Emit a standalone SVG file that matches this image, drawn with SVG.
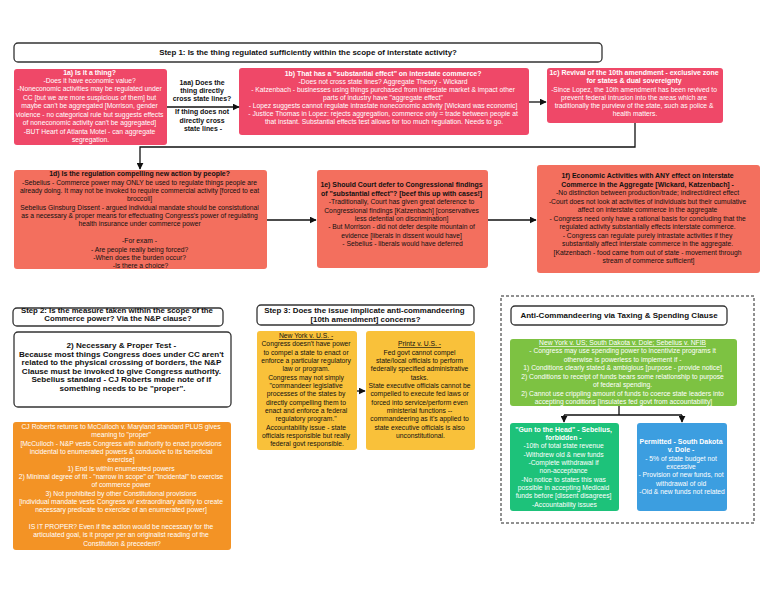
<svg xmlns="http://www.w3.org/2000/svg" width="768" height="593" viewBox="0 0 768 593">
<defs>
<marker id="ah" viewBox="0 0 10 10" refX="9" refY="5" markerWidth="7" markerHeight="7" markerUnits="userSpaceOnUse" orient="auto">
<path d="M0,0 L10,5 L0,10 z" fill="#111"/>
</marker>
<style>
text{font-family:"Liberation Sans",Arial,sans-serif;font-size:6.75px;text-anchor:middle}
.w{fill:#fff}
.k{fill:#111}
.b{font-weight:bold;font-size:6.95px}
.u{text-decoration:underline}
.hdr{fill:#fff;stroke:#333;stroke-width:1.3}
.pink{fill:#EF4868}
.salmon{fill:#F36F5E}
.orange{fill:#F39325}
.yellow{fill:#F9C13A}
.lgreen{fill:#7DC242}
.green{fill:#1DC27A}
.blue{fill:#3C9EE0}
.con{fill:none;stroke:#111;stroke-width:1.3}
</style>
</defs>
<rect width="768" height="593" fill="#fff"/>

<g id="step1">
<rect class="hdr" x="14" y="43" width="588" height="19" rx="4"/>
<text class="k" x="308" y="55.3" style="font-size:7.9px;font-weight:bold">Step 1: Is the thing regulated sufficiently within the scope of interstate activity?</text>
</g>

<g id="n1a">
<rect class="pink" x="14" y="69" width="153" height="76" rx="3"/>
<text class="w" x="90.5" y="74.6">
<tspan x="90.5" class="b">1a) Is it a thing?</tspan>
<tspan x="90.5" dy="8.42">-Does it have economic value?</tspan>
<tspan x="90.5" dy="8.42">-Noneconomic activities may be regulated under</tspan>
<tspan x="90.5" dy="8.42">CC [but we are more suspicious of them] but</tspan>
<tspan x="90.5" dy="8.42">maybe can't be aggregated [Morrison, gender</tspan>
<tspan x="90.5" dy="8.42">violence - no categorical rule but suggests effects</tspan>
<tspan x="90.5" dy="8.42">of noneconomic activity can't be aggregated]</tspan>
<tspan x="90.5" dy="8.42">-BUT Heart of Atlanta Motel - can aggregate</tspan>
<tspan x="90.5" dy="8.42">segregation.</tspan>
</text>
</g>

<g id="n1aa">
<text class="k b" x="203" y="84.6">
<tspan x="203">1aa) Does the</tspan>
<tspan x="203" dy="8.35">thing directly</tspan>
<tspan x="203" dy="8.35">cross state lines?</tspan>
<tspan x="203" dy="13">If thing does not</tspan>
<tspan x="203" dy="8.35">directly cross</tspan>
<tspan x="203" dy="8.35">state lines -</tspan>
</text>
</g>

<g id="n1b">
<rect class="pink" x="239" y="68" width="290" height="67" rx="3"/>
<text class="w" x="384" y="75.6">
<tspan x="384" class="b">1b) That has a "substantial effect" on interstate commerce?</tspan>
<tspan x="384" dy="8.07">-Does not cross state lines? Aggregate Theory - Wickard</tspan>
<tspan x="384" dy="8.07">- Katzenbach - businesses using things purchased from interstate market &amp; impact other</tspan>
<tspan x="384" dy="8.07">parts of industry have "aggregate effect"</tspan>
<tspan x="384" dy="8.07">-  Lopez suggests cannot regulate intrastate noneconomic activity [Wickard was economic]</tspan>
<tspan x="384" dy="8.07">- Justice Thomas in Lopez: rejects aggregation, commerce only = trade between people at</tspan>
<tspan x="384" dy="8.07">that instant. Substantial effects test allows for too much regulation. Needs to go.</tspan>
</text>
</g>

<g id="n1c">
<rect class="pink" x="547" y="68" width="176" height="55" rx="3"/>
<text class="w" x="635" y="75">
<tspan x="635" class="b">1c) Revival of the 10th amendment - exclusive zone</tspan>
<tspan x="635" dy="8.26" class="b">for states &amp; dual sovereignty</tspan>
<tspan x="635" dy="8.26">-Since Lopez, the 10th amendment has been revived to</tspan>
<tspan x="635" dy="8.26">prevent federal intrusion into the areas which are</tspan>
<tspan x="635" dy="8.26">traditionally the purview of the state, such as police &amp;</tspan>
<tspan x="635" dy="8.26">health matters.</tspan>
</text>
</g>

<g id="n1d">
<rect class="salmon" x="14" y="170" width="253" height="99" rx="3"/>
<text class="k" x="140.5" y="176.3">
<tspan x="140.5" class="b">1d) Is the regulation compelling new action by people?</tspan>
<tspan x="140.5" dy="8.36">-Sebelius - Commerce power may ONLY be used to regulate things people are</tspan>
<tspan x="140.5" dy="8.36">already doing. It may not be invoked to require commercial activity [forced to eat</tspan>
<tspan x="140.5" dy="8.36">broccoli]</tspan>
<tspan x="140.5" dy="8.36">Sebelius Ginsburg Dissent - argued individual mandate should be consistutional</tspan>
<tspan x="140.5" dy="8.36">as a necessary &amp; proper means for effectuating Congress's power of regulating</tspan>
<tspan x="140.5" dy="8.36">health insurance under commerce power</tspan>
<tspan x="140.5" dy="16.72">-For exam -</tspan>
<tspan x="140.5" dy="8.36">- Are people really being forced?</tspan>
<tspan x="140.5" dy="8.36">-When does the burden occur?</tspan>
<tspan x="140.5" dy="8.36">-Is there a choice?</tspan>
</text>
</g>

<g id="n1e">
<rect class="salmon" x="317" y="170" width="171" height="98" rx="3"/>
<text class="k" x="402.5" y="187.3">
<tspan x="402.5" class="b">1e) Should Court defer to Congressional findings</tspan>
<tspan x="402.5" dy="8.43" class="b">of "substantial effect"? [beef this up with cases!]</tspan>
<tspan x="402.5" dy="8.43">-Traditionally, Court has given great deference to</tspan>
<tspan x="402.5" dy="8.43">Congressional findings [Katzenbach] [conservatives</tspan>
<tspan x="402.5" dy="8.43">less defential on discrimination]</tspan>
<tspan x="402.5" dy="8.43">- But Morrison - did not defer despite mountain of</tspan>
<tspan x="402.5" dy="8.43">evidence [liberals in dissent would have]</tspan>
<tspan x="402.5" dy="8.43">- Sebelius - liberals would have deferred</tspan>
</text>
</g>

<g id="n1f">
<rect class="salmon" x="537" y="165" width="223" height="108" rx="3"/>
<text class="k" x="648.5" y="178.3">
<tspan x="648.5" class="b">1f) Economic Activities with ANY effect on Interstate</tspan>
<tspan x="648.5" dy="8.5" class="b">Commerce in the Aggregate [Wickard, Katzenbach] -</tspan>
<tspan x="648.5" dy="8.5">-No distinction between production/trade; indirect/direct effect</tspan>
<tspan x="648.5" dy="8.5">-Court does not look at activities of individuals but their cumulative</tspan>
<tspan x="648.5" dy="8.5">affect on interstate commerce in the aggregate</tspan>
<tspan x="648.5" dy="8.5">- Congress need only have a rational basis for concluding that the</tspan>
<tspan x="648.5" dy="8.5">regulated activity substantially effects interstate commerce.</tspan>
<tspan x="648.5" dy="8.5">- Congress can regulate purely intrastate activities if they</tspan>
<tspan x="648.5" dy="8.5">substantially affect interstate commerce in the aggregate.</tspan>
<tspan x="648.5" dy="8.5">[Katzenbach - food came from out of state - movement through</tspan>
<tspan x="648.5" dy="8.5">stream of commerce sufficient]</tspan>
</text>
</g>

<g id="step2">
<rect class="hdr" x="13" y="308" width="210" height="18" rx="4"/>
<text class="k" x="118" y="312.6" style="font-size:7.8px;font-weight:bold">
<tspan x="118">Step 2: Is the measure taken within the scope of the</tspan>
<tspan x="118" dy="8.3">Commerce power? Via the N&amp;P clause?</tspan>
</text>
</g>

<g id="n2">
<rect class="hdr" x="14" y="332" width="217" height="75" rx="4"/>
<text class="k" x="122.5" y="348.2" style="font-size:8.1px;font-weight:bold">
<tspan x="122.5">2) Necessary &amp; Proper Test -</tspan>
<tspan x="122.5" dy="8.5">Because most things Congress does under CC aren't</tspan>
<tspan x="122.5" dy="8.5">related to the physical crossing of borders, the N&amp;P</tspan>
<tspan x="122.5" dy="8.5">Clause must be invoked to give Congress authority.</tspan>
<tspan x="122.5" dy="8.5">Sebelius standard - CJ Roberts made note of if</tspan>
<tspan x="122.5" dy="8.5">something needs to be "proper".</tspan>
</text>
</g>

<g id="n2b">
<rect class="orange" x="13" y="422" width="218" height="128" rx="3"/>
<text class="w" x="122" y="429">
<tspan x="122">CJ Roberts returns to McCulloch v. Maryland standard PLUS gives</tspan>
<tspan x="122" dy="8.33">meaning to "proper"</tspan>
<tspan x="122" dy="8.33">[McCulloch - N&amp;P vests Congress with authority to enact provisions</tspan>
<tspan x="122" dy="8.33">incidental to enumerated powers &amp; conducive to its beneficial</tspan>
<tspan x="122" dy="8.33">exercise]</tspan>
<tspan x="122" dy="8.33">1) End is within enumerated powers</tspan>
<tspan x="122" dy="8.33">2) Minimal degree of fit - "narrow in scope" or "incidental" to exercise</tspan>
<tspan x="122" dy="8.33">of commerce power</tspan>
<tspan x="122" dy="8.33">3) Not prohibited by other Constitutional provisions</tspan>
<tspan x="122" dy="8.33">[individual mandate vests Congress w/ extraordinary ability to create</tspan>
<tspan x="122" dy="8.33">necessary predicate to exercise of an enumerated power]</tspan>
<tspan x="122" dy="16.66">IS IT PROPER? Even if the action would be necessary for the</tspan>
<tspan x="122" dy="8.33">articulated goal, is it proper per an originalist reading of the</tspan>
<tspan x="122" dy="8.33">Constitution &amp; precedent?</tspan>
</text>
</g>

<g id="step3">
<rect class="hdr" x="257" y="305" width="217" height="20" rx="4"/>
<text class="k" x="365.5" y="312.7" style="font-size:7.9px;font-weight:bold">
<tspan x="365.5">Step 3: Does the issue implicate anti-commandeering</tspan>
<tspan x="365.5" dy="8.8">[10th amendment] concerns?</tspan>
</text>
</g>

<g id="n3a">
<rect class="yellow" x="257" y="331" width="100" height="119" rx="3"/>
<text class="k" x="307" y="338">
<tspan x="307" class="u">New York v. U.S. -</tspan>
<tspan x="307" dy="8.33">Congress doesn't have power</tspan>
<tspan x="307" dy="8.33">to compel a state to enact or</tspan>
<tspan x="307" dy="8.33">enforce a particular regulatory</tspan>
<tspan x="307" dy="8.33">law or program.</tspan>
<tspan x="307" dy="8.33">Congress may not simply</tspan>
<tspan x="307" dy="8.33">"commandeer legislative</tspan>
<tspan x="307" dy="8.33">processes of the states by</tspan>
<tspan x="307" dy="8.33">directly compelling them to</tspan>
<tspan x="307" dy="8.33">enact and enforce a federal</tspan>
<tspan x="307" dy="8.33">regulatory program."</tspan>
<tspan x="307" dy="8.33">Accountability issue - state</tspan>
<tspan x="307" dy="8.33">officials responsible but really</tspan>
<tspan x="307" dy="8.33">federal govt responsible.</tspan>
</text>
</g>

<g id="n3b">
<rect class="yellow" x="366" y="331" width="109" height="119" rx="3"/>
<text class="k" x="420.5" y="346.3">
<tspan x="420.5" class="u">Printz v. U.S. -</tspan>
<tspan x="420.5" dy="8.33">Fed govt cannot compel</tspan>
<tspan x="420.5" dy="8.33">state/local officials to perform</tspan>
<tspan x="420.5" dy="8.33">federally specified administrative</tspan>
<tspan x="420.5" dy="8.33">tasks.</tspan>
<tspan x="420.5" dy="8.33">State executive officials cannot be</tspan>
<tspan x="420.5" dy="8.33">compelled to execute fed laws or</tspan>
<tspan x="420.5" dy="8.33">forced into service/perform even</tspan>
<tspan x="420.5" dy="8.33">ministerial functions --</tspan>
<tspan x="420.5" dy="8.33">commandeering as it's applied to</tspan>
<tspan x="420.5" dy="8.33">state executive officials is also</tspan>
<tspan x="420.5" dy="8.33">unconstitutional.</tspan>
</text>
</g>

<g id="antiframe">
<rect x="501" y="296" width="253" height="227" fill="none" stroke="#222" stroke-width="1" stroke-dasharray="3,2"/>
</g>

<g id="anti">
<rect class="hdr" x="511" y="306" width="216" height="19" rx="4"/>
<text class="k" x="619" y="318.3" style="font-size:8px;font-weight:bold">Anti-Commandeering via Taxing &amp; Spending Clause</text>
</g>

<g id="n4">
<rect class="lgreen" x="510" y="339" width="227" height="67" rx="3"/>
<text class="w" x="623.5" y="345">
<tspan x="623.5" class="u">New York v. US; South Dakota v. Dole; Sebelius v. NFIB</tspan>
<tspan x="623.5" dy="8.43">- Congress may use spending power to incentivize programs it</tspan>
<tspan x="623.5" dy="8.43">otherwise is powerless to implement if -</tspan>
<tspan x="623.5" dy="8.43">1) Conditions clearly stated &amp; ambigious [purpose - provide notice]</tspan>
<tspan x="623.5" dy="8.43">2) Conditions to receipt of funds bears some relationship to purpose</tspan>
<tspan x="623.5" dy="8.43">of federal spending.</tspan>
<tspan x="623.5" dy="8.43">2) Cannot use crippling amount of funds to coerce state leaders into</tspan>
<tspan x="623.5" dy="8.43">accepting conditions [insulates fed govt from accountability]</tspan>
</text>
</g>

<g id="n4a">
<rect class="green" x="510" y="423" width="109" height="88" rx="3"/>
<text class="w" x="564.5" y="431.6">
<tspan x="564.5" class="b">"Gun to the Head" - Sebelius,</tspan>
<tspan x="564.5" dy="8.33" class="b">forbidden -</tspan>
<tspan x="564.5" dy="8.33">-10th of total state revenue</tspan>
<tspan x="564.5" dy="8.33">-Withdrew old &amp; new funds</tspan>
<tspan x="564.5" dy="8.33">-Complete withdrawal if</tspan>
<tspan x="564.5" dy="8.33">non-acceptance</tspan>
<tspan x="564.5" dy="8.33">-No notice to states this was</tspan>
<tspan x="564.5" dy="8.33">possible in accepting Medicaid</tspan>
<tspan x="564.5" dy="8.33">funds before [dissent disagrees]</tspan>
<tspan x="564.5" dy="8.33">-Accountability issues</tspan>
</text>
</g>

<g id="n4b">
<rect class="blue" x="637" y="423" width="90" height="88" rx="3"/>
<text class="w" x="682" y="444">
<tspan x="682" class="b">Permitted - South Dakota</tspan>
<tspan x="682" dy="8.33" class="b">v. Dole -</tspan>
<tspan x="682" dy="8.33">- 5% of state budget not</tspan>
<tspan x="682" dy="8.33">excessive</tspan>
<tspan x="682" dy="8.33">- Provision of new funds, not</tspan>
<tspan x="682" dy="8.33">withdrawal of old</tspan>
<tspan x="682" dy="8.33">-Old &amp; new funds not related</tspan>
</text>
</g>

<g id="connectors">
<path class="con" d="M167,107 H239" marker-end="url(#ah)"/>
<path class="con" d="M529,102 H546" marker-end="url(#ah)"/>
<path class="con" d="M635,123 V147 H140 V169" marker-end="url(#ah)"/>
<path class="con" d="M267,220 H316" marker-end="url(#ah)"/>
<path class="con" d="M488,220 H536" marker-end="url(#ah)"/>
<path class="con" d="M357,391 H365" marker-end="url(#ah)"/>
<path class="con" d="M619,406 V415 M564,415 H682"/>
<path class="con" d="M564,415 V422" marker-end="url(#ah)"/>
<path class="con" d="M682,415 V422" marker-end="url(#ah)"/>
</g>
</svg>
